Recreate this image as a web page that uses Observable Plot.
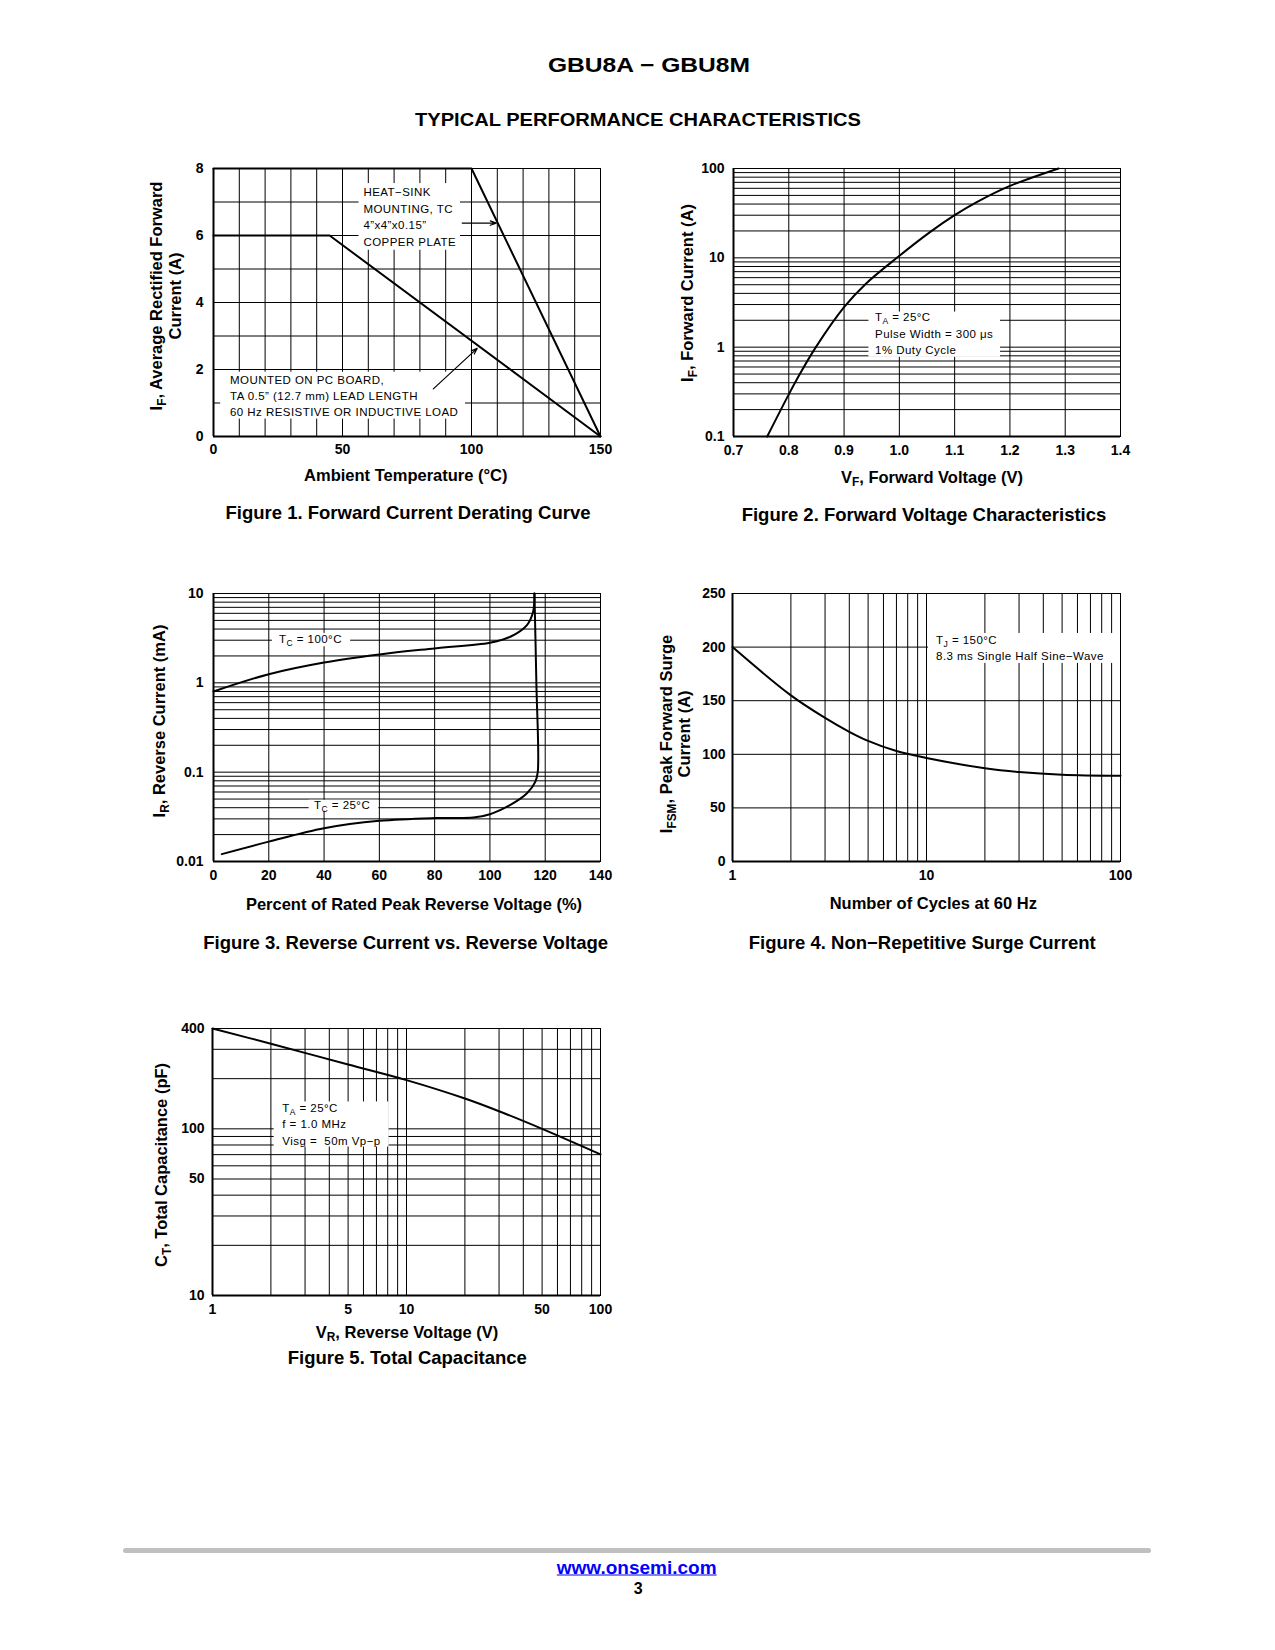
<!DOCTYPE html>
<html><head><meta charset="utf-8">
<script src="https://cdn.jsdelivr.net/npm/d3@7"></script>
<script src="https://cdn.jsdelivr.net/npm/@observablehq/plot@0.6"></script>
<style>
body{margin:0;background:#fff;}
#page{position:relative;width:1275px;height:1650px;background:#fff;font-family:"Liberation Sans",Arial,Helvetica,sans-serif;color:#000;overflow:hidden}
.t{position:absolute;white-space:nowrap;line-height:1;}
.chart{position:absolute}
.chart svg{overflow:visible;display:block}
sub{font-size:0.72em;vertical-align:baseline;position:relative;top:0.3em;line-height:0}
</style></head><body><div id="page"></div><script>
// ---------- Figure 1: Forward current derating ----------
const fig1Temp = [0, 100, 150];
const fig1HeatSink = [8, 8, 0];
const fig1PcbTemp = [0, 45, 150];
const fig1Pcb = [6, 6, 0];
const fig1XTicks = [0, 50, 100, 150];
const fig1YTicks = [0, 2, 4, 6, 8];
const fig1NoteText = ["HEAT\u2212SINK", "MOUNTING, TC", "4\u201dx4\u201dx0.15\u201d", "COPPER PLATE",
  "MOUNTED ON PC BOARD,", "TA 0.5\u201d (12.7 mm) LEAD LENGTH", "60 Hz RESISTIVE OR INDUCTIVE LOAD"];
const fig1NoteX = [58.1, 58.1, 58.1, 58.1, 6.4, 6.4, 6.4];
const fig1NoteY = [7.28, 6.78, 6.30, 5.81, 1.69, 1.19, 0.72];
const fig1Boxes = [[56.4, 95.7, 5.56, 7.55], [2.8, 97.7, 0.52, 1.92]];
const fig1ArrowFrom = [[96.4, 6.37], [85.2, 1.42]];
const fig1ArrowTo = [[109.6, 6.37], [102.2, 2.63]];

// ---------- Figure 2: Forward voltage ----------
const fig2Vf = [0.761, 0.8005, 0.82, 0.849, 0.9, 0.939, 0.999, 1.056, 1.1, 1.14, 1.198, 1.288];
const fig2If = [0.1, 0.30, 0.5, 1.0, 2.8, 5.1, 10.4, 19.5, 30, 42, 63, 100];
const fig2XTicks = [0.7, 0.8, 0.9, 1.0, 1.1, 1.2, 1.3, 1.4];
const fig2YTicks = [0.1, 1, 10, 100];
const fig2NoteText = ["T_A = 25\u00b0C", "Pulse Width = 300 \u03bcs", "1% Duty Cycle"];
const fig2NoteX = [0.956, 0.956, 0.956];
const fig2NoteY = [2.17, 1.41, 0.914];
const fig2Boxes = [[0.945, 1.183, 0.77, 2.47]];

// ---------- Figure 3: Reverse current ----------
const fig3Pct100 = [0, 20, 40, 60, 80, 100, 107.4, 113.4, 115.6, 116.1];
const fig3Ir100 = [0.80, 1.25, 1.69, 2.08, 2.43, 2.81, 3.28, 4.43, 6.2, 10];
const fig3Pct25 = [3, 20, 40, 60, 80, 94, 100, 107.4, 113.4, 116.4, 117.3, 116.8, 116.1];
const fig3Ir25 = [0.0121, 0.0167, 0.0236, 0.0285, 0.0306, 0.031, 0.0338, 0.043, 0.058, 0.078, 0.10, 1.0, 10];
const fig3XTicks = [0, 20, 40, 60, 80, 100, 120, 140];
const fig3YTicks = [0.01, 0.1, 1, 10];
const fig3NoteText = ["T_C = 100\u00b0C", "T_C = 25\u00b0C"];
const fig3NoteX = [23.7, 36.4];
const fig3NoteY = [3.09, 0.043];
const fig3Boxes = [[21.3, 49.6, 2.53, 3.57], [34.6, 59.8, 0.0365, 0.0485]];

// ---------- Figure 4: Surge current ----------
const fig4Cycles = [1, 2, 3, 4, 5, 7, 10, 20, 30, 50, 100];
const fig4Ifsm = [200, 155, 134, 121, 112.5, 103, 96.5, 87, 83.5, 81, 80];
const fig4XTicks = [1, 10, 100];
const fig4YTicks = [0, 50, 100, 150, 200, 250];
const fig4NoteText = ["T_J = 150\u00b0C", "8.3 ms Single Half Sine\u2212Wave"];
const fig4NoteX = [11.2, 11.2];
const fig4NoteY = [206.5, 191.6];
const fig4Boxes = [[10.24, 100, 184.8, 212.7]];

// ---------- Figure 5: Capacitance ----------
const fig5Vr = [1, 2, 5, 10, 20, 30, 50, 100];
const fig5Ct = [400, 324, 243, 196, 152, 127.5, 100, 70.3];
const fig5XTicks = [1, 5, 10, 50, 100];
const fig5YTicks = [10, 50, 100, 400];
const fig5NoteText = ["T_A = 25\u00b0C", "f = 1.0 MHz", "Visg =  50m Vp\u2212p"];
const fig5NoteX = [2.29, 2.29, 2.29];
const fig5NoteY = [132, 106, 84.5];
const fig5Boxes = [[2.08, 8.13, 77.8, 145]];

// ---------- page ----------
const FONT = '"Liberation Sans", Arial, Helvetica, sans-serif';
const page = document.getElementById("page");

function label(html, cx, cy, fs, opts = {}) {
  const d = document.createElement("div");
  d.className = "t";
  d.innerHTML = html;
  d.style.fontSize = fs + "px";
  d.style.fontWeight = opts.weight || "bold";
  if (opts.spacing) d.style.letterSpacing = opts.spacing + "px";
  if (opts.color) d.style.color = opts.color;
  if (opts.underline) d.style.textDecoration = "underline";
  d.style.left = cx + "px";
  d.style.top = cy + "px";
  d.style.transform = "translate(-50%,-50%)" + (opts.rotate ? " rotate(-90deg)" : "") + (opts.stretch ? ` scaleX(${opts.stretch})` : "");
  page.appendChild(d);
  return d;
}

function subscriptify(svg) {
  svg.querySelectorAll("text").forEach(t => {
    if (t.closest('g[aria-label="text"]')) { t.style.letterSpacing = "0.45px"; return; }
    t.style.fontSize = "14px";
    t.style.fontWeight = "bold";
  });
  svg.querySelectorAll("text").forEach(t => {
    if (t.querySelector("tspan")) return;
    const m = /^(.*?)([A-Z])_([A-Z]+)(.*)$/.exec(t.textContent);
    if (!m) return;
    t.textContent = "";
    const ns = "http://www.w3.org/2000/svg";
    const a = document.createElementNS(ns, "tspan"); a.textContent = m[1] + m[2];
    const b = document.createElementNS(ns, "tspan"); b.textContent = m[3];
    b.setAttribute("dy", "3"); b.setAttribute("font-size", "8.5");
    const c = document.createElementNS(ns, "tspan"); c.textContent = m[4]; c.setAttribute("dy", "-3");
    t.append(a, b, c);
  });
}

function logGrid(domain) { return d3.scaleLog().domain(domain).ticks(); }

function drawChart(frame, x, y, marks) {
  const ml = 70, mr = 16, mt = 14, mb = 36;
  const svg = Plot.plot({
    width: frame.w + ml + mr, height: frame.h + mt + mb,
    marginLeft: ml, marginRight: mr, marginTop: mt, marginBottom: mb,
    style: {fontFamily: FONT, fontSize: "14px", fontWeight: "bold", color: "black", background: "transparent", overflow: "visible"},
    x: {tickSize: 0, tickPadding: 9, label: null, ...x},
    y: {tickSize: 0, tickPadding: 9, label: null, ...y},
    marks
  });
  const div = document.createElement("div");
  div.className = "chart";
  div.style.left = (frame.x - ml) + "px";
  div.style.top = (frame.y - mt) + "px";
  div.appendChild(svg);
  page.appendChild(div);
  subscriptify(svg);
}

function notes(text, xs, ys) {
  return Plot.text(text, {x: xs, y: ys, text: d => d, textAnchor: "start", fontSize: 11.5, fontWeight: "normal", fill: "black"});
}
function boxes(b) {
  return Plot.rect(b, {x1: d => d[0], x2: d => d[1], y1: d => d[2], y2: d => d[3], fill: "white"});
}
function frameMarks(xmin, ymin) {
  return [Plot.frame({stroke: "black", strokeWidth: 1}),
          Plot.ruleX([xmin], {stroke: "black", strokeWidth: 2}),
          Plot.ruleY([ymin], {stroke: "black", strokeWidth: 2})];
}
const grid = {stroke: "black", strokeWidth: 1};
const curve = {stroke: "black", strokeWidth: 2};

// Figure 1
drawChart({x: 213, y: 168, w: 387, h: 268},
  {domain: [0, 150], ticks: fig1XTicks, tickPadding: 8},
  {domain: [0, 8], ticks: fig1YTicks, tickPadding: 10},
  [
    Plot.ruleX(d3.range(0, 151, 10), grid),
    Plot.ruleY(d3.range(0, 9, 1), grid),
    boxes(fig1Boxes),
    ...frameMarks(0, 0),
    Plot.line(fig1Temp, {x: fig1Temp, y: fig1HeatSink, ...curve}),
    Plot.line(fig1PcbTemp, {x: fig1PcbTemp, y: fig1Pcb, ...curve}),
    notes(fig1NoteText, fig1NoteX, fig1NoteY),
    Plot.arrow(fig1ArrowFrom, {x1: d => d[0], y1: d => d[1], x2: (d, i) => fig1ArrowTo[i][0], y2: (d, i) => fig1ArrowTo[i][1],
      stroke: "black", strokeWidth: 1.2, headLength: 8, headAngle: 40})
  ]);

// Figure 2
drawChart({x: 733, y: 168, w: 387, h: 268},
  {domain: [0.7, 1.4], ticks: fig2XTicks, tickFormat: d3.format(".1f")},
  {type: "log", domain: [0.1, 100], ticks: fig2YTicks, tickFormat: d => String(d)},
  [
    Plot.ruleX(fig2XTicks, grid),
    Plot.ruleY(logGrid([0.1, 100]), grid),
    boxes(fig2Boxes),
    ...frameMarks(0.7, 0.1),
    Plot.line(fig2Vf, {x: fig2Vf, y: fig2If, curve: "catmull-rom", ...curve}),
    notes(fig2NoteText, fig2NoteX, fig2NoteY)
  ]);

// Figure 3
drawChart({x: 213, y: 593, w: 387, h: 268},
  {domain: [0, 140], ticks: fig3XTicks},
  {type: "log", domain: [0.01, 10], ticks: fig3YTicks, tickFormat: d => String(d), tickPadding: 10},
  [
    Plot.ruleX(fig3XTicks, grid),
    Plot.ruleY(logGrid([0.01, 10]), grid),
    boxes(fig3Boxes),
    ...frameMarks(0, 0.01),
    Plot.line(fig3Pct100, {x: fig3Pct100, y: fig3Ir100, curve: "catmull-rom", ...curve}),
    Plot.line(fig3Pct25, {x: fig3Pct25, y: fig3Ir25, curve: "catmull-rom", ...curve}),
    notes(fig3NoteText, fig3NoteX, fig3NoteY)
  ]);

// Figure 4
drawChart({x: 732, y: 593, w: 388, h: 268},
  {type: "log", domain: [1, 100], ticks: fig4XTicks, tickFormat: d => String(d)},
  {domain: [0, 250], ticks: fig4YTicks, tickPadding: 7},
  [
    Plot.ruleX(logGrid([1, 100]), grid),
    Plot.ruleY(fig4YTicks, grid),
    boxes(fig4Boxes),
    ...frameMarks(1, 0),
    Plot.line(fig4Cycles, {x: fig4Cycles, y: fig4Ifsm, curve: "catmull-rom", ...curve}),
    notes(fig4NoteText, fig4NoteX, fig4NoteY)
  ]);

// Figure 5
drawChart({x: 212, y: 1028, w: 388, h: 267},
  {type: "log", domain: [1, 100], ticks: fig5XTicks, tickFormat: d => String(d)},
  {type: "log", domain: [10, 400], ticks: fig5YTicks, tickFormat: d => String(d), tickPadding: 8},
  [
    Plot.ruleX(logGrid([1, 100]), grid),
    Plot.ruleY(logGrid([10, 400]), grid),
    boxes(fig5Boxes),
    ...frameMarks(1, 10),
    Plot.line(fig5Vr, {x: fig5Vr, y: fig5Ct, curve: "catmull-rom", ...curve}),
    notes(fig5NoteText, fig5NoteX, fig5NoteY)
  ]);

// page titles
label("GBU8A \u2212 GBU8M", 649, 65.3, 20.5, {stretch: 1.2});
label("TYPICAL PERFORMANCE CHARACTERISTICS", 638, 120, 18.6, {stretch: 1.08});

// axis titles
const AX = 16.5, CAP = 18.5;
label("I<sub>F</sub>, Average Rectified Forward", 156, 296, AX, {rotate: true});
label("Current (A)", 174.5, 296, AX, {rotate: true});
label("Ambient Temperature (\u00b0C)", 405.8, 475.2, AX);
label("Figure 1. Forward Current Derating Curve", 408, 513, CAP);

label("I<sub>F</sub>, Forward Current (A)", 686.5, 292.5, AX, {rotate: true});
label("V<sub>F</sub>, Forward Voltage (V)", 932, 476.7, AX);
label("Figure 2. Forward Voltage Characteristics", 924, 515, CAP);

label("I<sub>R</sub>, Reverse Current (mA)", 159, 721, AX, {rotate: true});
label("Percent of Rated Peak Reverse Voltage (%)", 414, 904.3, AX);
label("Figure 3. Reverse Current vs. Reverse Voltage", 405.7, 943.3, CAP);

label("I<sub>FSM</sub>, Peak Forward Surge", 665.7, 734, AX, {rotate: true});
label("Current (A)", 684, 734, AX, {rotate: true});
label("Number of Cycles at 60 Hz", 933.3, 903.3, AX);
label("Figure 4. Non\u2212Repetitive Surge Current", 922.3, 943.3, CAP);

label("C<sub>T</sub>, Total Capacitance (pF)", 160.7, 1165, AX, {rotate: true});
label("V<sub>R</sub>, Reverse Voltage (V)", 407, 1331.7, AX);
label("Figure 5. Total Capacitance", 407.3, 1358.3, CAP);

// footer
const bar = document.createElement("div");
Object.assign(bar.style, {position: "absolute", left: "123px", top: "1548px", width: "1028px", height: "5px", background: "#c0c0c0", borderRadius: "3px"});
page.appendChild(bar);
label("www.onsemi.com", 636.7, 1567, 19, {color: "#0000ff", underline: true});
label("3", 638.3, 1589.3, 16);
</script></body></html>
